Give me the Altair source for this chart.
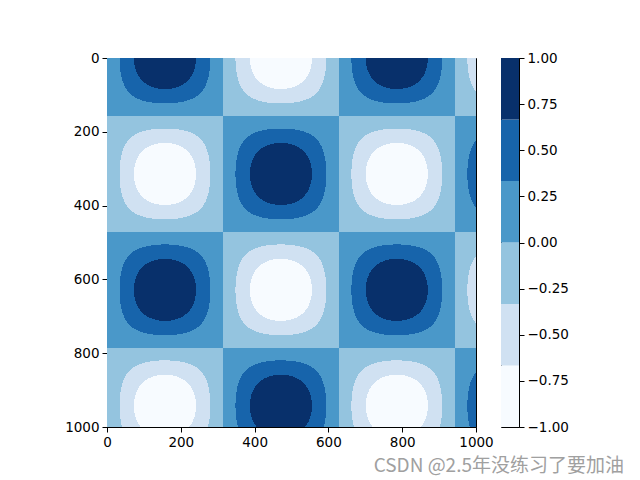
import numpy as np
import pandas as pd
import altair as alt

alt.data_transformers.disable_max_rows()

# ---- data ----
x_ticks = [0, 200, 400, 600, 800, 1000]
y_ticks = [0, 200, 400, 600, 800, 1000]
cbar_ticks = [-1.0, -0.75, -0.5, -0.25, 0.0, 0.25, 0.5, 0.75, 1.0]
levels = [-1.0, -2/3, -1/3, 0.0, 1/3, 2/3, 1.0]
colors = ["#f7fbff", "#d0e1f2", "#94c4df", "#4a98c9", "#1764ab", "#08306b"]
field_extent = [0, 1000]
field_scale = 100.0   # z = sin(x/scale) * cos(y/scale)
n_cells = 369          # one cell per screen pixel

# ---- build field, quantize, merge runs ----
step = (field_extent[1] - field_extent[0]) / n_cells
edges = field_extent[0] + step * np.arange(n_cells + 1)
centers = (edges[:-1] + edges[1:]) / 2
rects = []
open_runs = {}
for j in range(n_cells):
    z = np.sin(centers / field_scale) * np.cos(centers[j] / field_scale)
    lvl = np.clip(np.digitize(z, levels[1:-1]), 0, len(colors) - 1)
    runs = []
    start = 0
    for i in range(1, n_cells + 1):
        if i == n_cells or lvl[i] != lvl[start]:
            runs.append((start, i, int(lvl[start])))
            start = i
    new_open = {}
    for r in runs:
        if r in open_runs:
            rec = open_runs.pop(r)
            rec["y2"] = float(edges[j + 1])
        else:
            rec = {"x": float(edges[r[0]]), "x2": float(edges[r[1]]),
                   "y": float(edges[j]), "y2": float(edges[j + 1]), "lvl": r[2]}
            rects.append(rec)
        new_open[r] = rec
    open_runs = new_open
df = pd.DataFrame(rects)

cb = pd.DataFrame({"lo": levels[:-1], "hi": levels[1:], "lvl": list(range(len(colors)))})

FONT = "DejaVu Sans"
color_scale = alt.Scale(domain=list(range(len(colors))), range=colors)

main = alt.Chart(df).mark_rect(strokeWidth=0).encode(
    x=alt.X("x:Q", scale=alt.Scale(domain=field_extent, nice=False),
            axis=alt.Axis(values=x_ticks, title=None, format="d", grid=False)),
    x2="x2:Q",
    y=alt.Y("y:Q", scale=alt.Scale(domain=field_extent, reverse=True, nice=False),
            axis=alt.Axis(values=y_ticks, title=None, format="d", grid=False)),
    y2="y2:Q",
    color=alt.Color("lvl:O", scale=color_scale, legend=None),
).properties(width=369, height=369)

cbar = alt.Chart(cb).mark_rect(strokeWidth=0).encode(
    x=alt.value(0), x2=alt.value(18),
    y=alt.Y("lo:Q", scale=alt.Scale(domain=[-1, 1], nice=False),
            axis=alt.Axis(orient="right", values=cbar_ticks, format=".2f", title=None, grid=False)),
    y2="hi:Q",
    color=alt.Color("lvl:O", scale=color_scale, legend=None),
)
watermark = alt.Chart(pd.DataFrame({"t": ["CSDN @2.5年没练习了要加油"]})).mark_text(
    align="right", baseline="middle", font="Noto Sans CJK SC", fontSize=19, color="#a0a0a0"
).encode(text="t:N", x=alt.value(123), y=alt.value(408))

cbar_layer = alt.layer(cbar, watermark).properties(width=18, height=369)

chart = alt.hconcat(main, cbar_layer, spacing=25, bounds="flush").properties(
    padding={"left": 56, "top": 42, "right": 0, "bottom": 0}
).configure_view(stroke="black", strokeWidth=1).configure_axis(
    labelFont=FONT, labelFontSize=13.5, labelColor="black", tickColor="black",
    domainColor="black", tickSize=5, labelPadding=3, domain=True, labelFlush=False
)

chart.save("out.html", embed_options={"renderer": "svg", "actions": False})
